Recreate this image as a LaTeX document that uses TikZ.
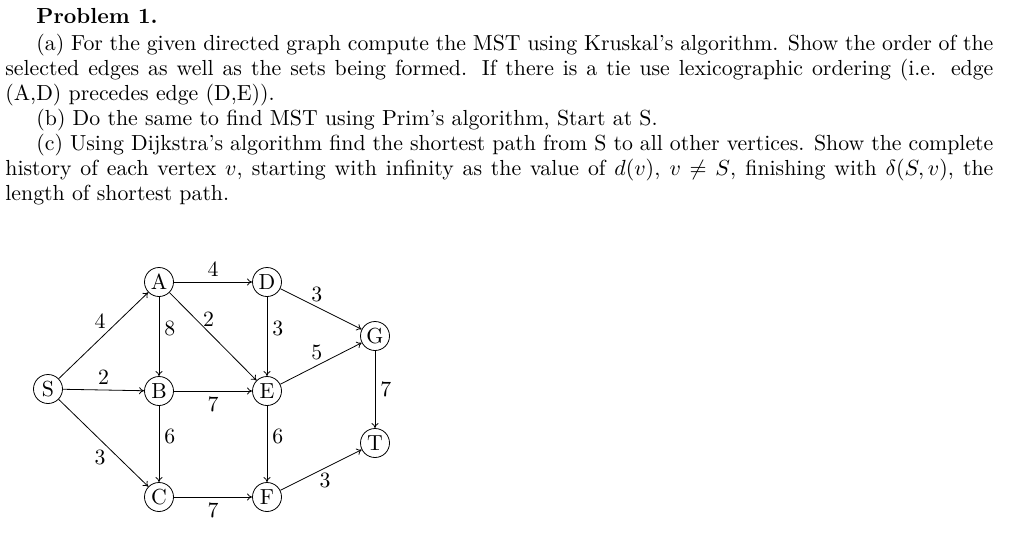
\documentclass[tikz,border=0pt]{standalone}
\usetikzlibrary{arrows.meta}
\begin{document}
\begin{tikzpicture}[x=0.5pt,y=-0.5pt,
  vert/.style={circle,draw,minimum size=14.5pt,inner sep=0pt,font=\fontsize{10.9}{12}\selectfont},
  arc/.style={-{To[length=2.5pt,width=3.5pt]},line width=0.4pt},
  wt/.style={font=\fontsize{10.9}{12}\selectfont,inner sep=2.5pt}]
\useasboundingbox (0,0) rectangle (1024,536);
\node[anchor=north west,inner sep=0pt,text width=494pt,align=justify,font=\fontsize{10.9}{12.5}\selectfont] (txt) at (5,8) {%
\hspace*{15.5pt}\textbf{Problem 1.}\par\vspace{1pt}
\hspace*{15.5pt}(a) For the given directed graph compute the MST using Kruskal's algorithm. Show the order of the selected edges as well as the sets being formed. If there is a tie use lexicographic ordering (i.e. edge (A,D) precedes edge (D,E)).\par
\hspace*{15.5pt}(b) Do the same to find MST using Prim's algorithm, Start at S.\par
\hspace*{15.5pt}(c) Using Dijkstra's algorithm find the shortest path from S to all other vertices. Show the complete history of each vertex $v$, starting with infinity as the value of $d(v)$, $v\neq S$, finishing with $\delta(S,v)$, the length of shortest path.};
\node[vert] (S) at (48,389) {S};
\node[vert] (A) at (159,282) {A};
\node[vert] (B) at (159,391) {B};
\node[vert] (C) at (159,497) {C};
\node[vert] (D) at (267,282) {D};
\node[vert] (E) at (267,391) {E};
\node[vert] (F) at (267,497) {F};
\node[vert] (G) at (375,336) {G};
\node[vert] (T) at (375,443) {T};
\draw[arc] (S) -- node[wt,above left,inner sep=1pt,pos=0.55] {4} (A);
\draw[arc] (S) -- node[wt,above] {2} (B);
\draw[arc] (S) -- node[wt,below left,inner sep=1pt,pos=0.55] {3} (C);
\draw[arc] (A) -- node[wt,above] {4} (D);
\draw[arc] (A) -- node[wt,right,pos=0.4] {8} (B);
\draw[arc] (A) -- node[wt,above,pos=0.45] {2} (E);
\draw[arc] (B) -- node[wt,below] {7} (E);
\draw[arc] (B) -- node[wt,right,pos=0.4] {6} (C);
\draw[arc] (C) -- node[wt,below] {7} (F);
\draw[arc] (D) -- node[wt,right,pos=0.4] {3} (E);
\draw[arc] (D) -- node[wt,above,pos=0.45] {3} (G);
\draw[arc] (E) -- node[wt,above,pos=0.45] {5} (G);
\draw[arc] (E) -- node[wt,right,pos=0.4] {6} (F);
\draw[arc] (G) -- node[wt,right] {7} (T);
\draw[arc] (F) -- node[wt,below,pos=0.55] {3} (T);
\end{tikzpicture}
\end{document}
